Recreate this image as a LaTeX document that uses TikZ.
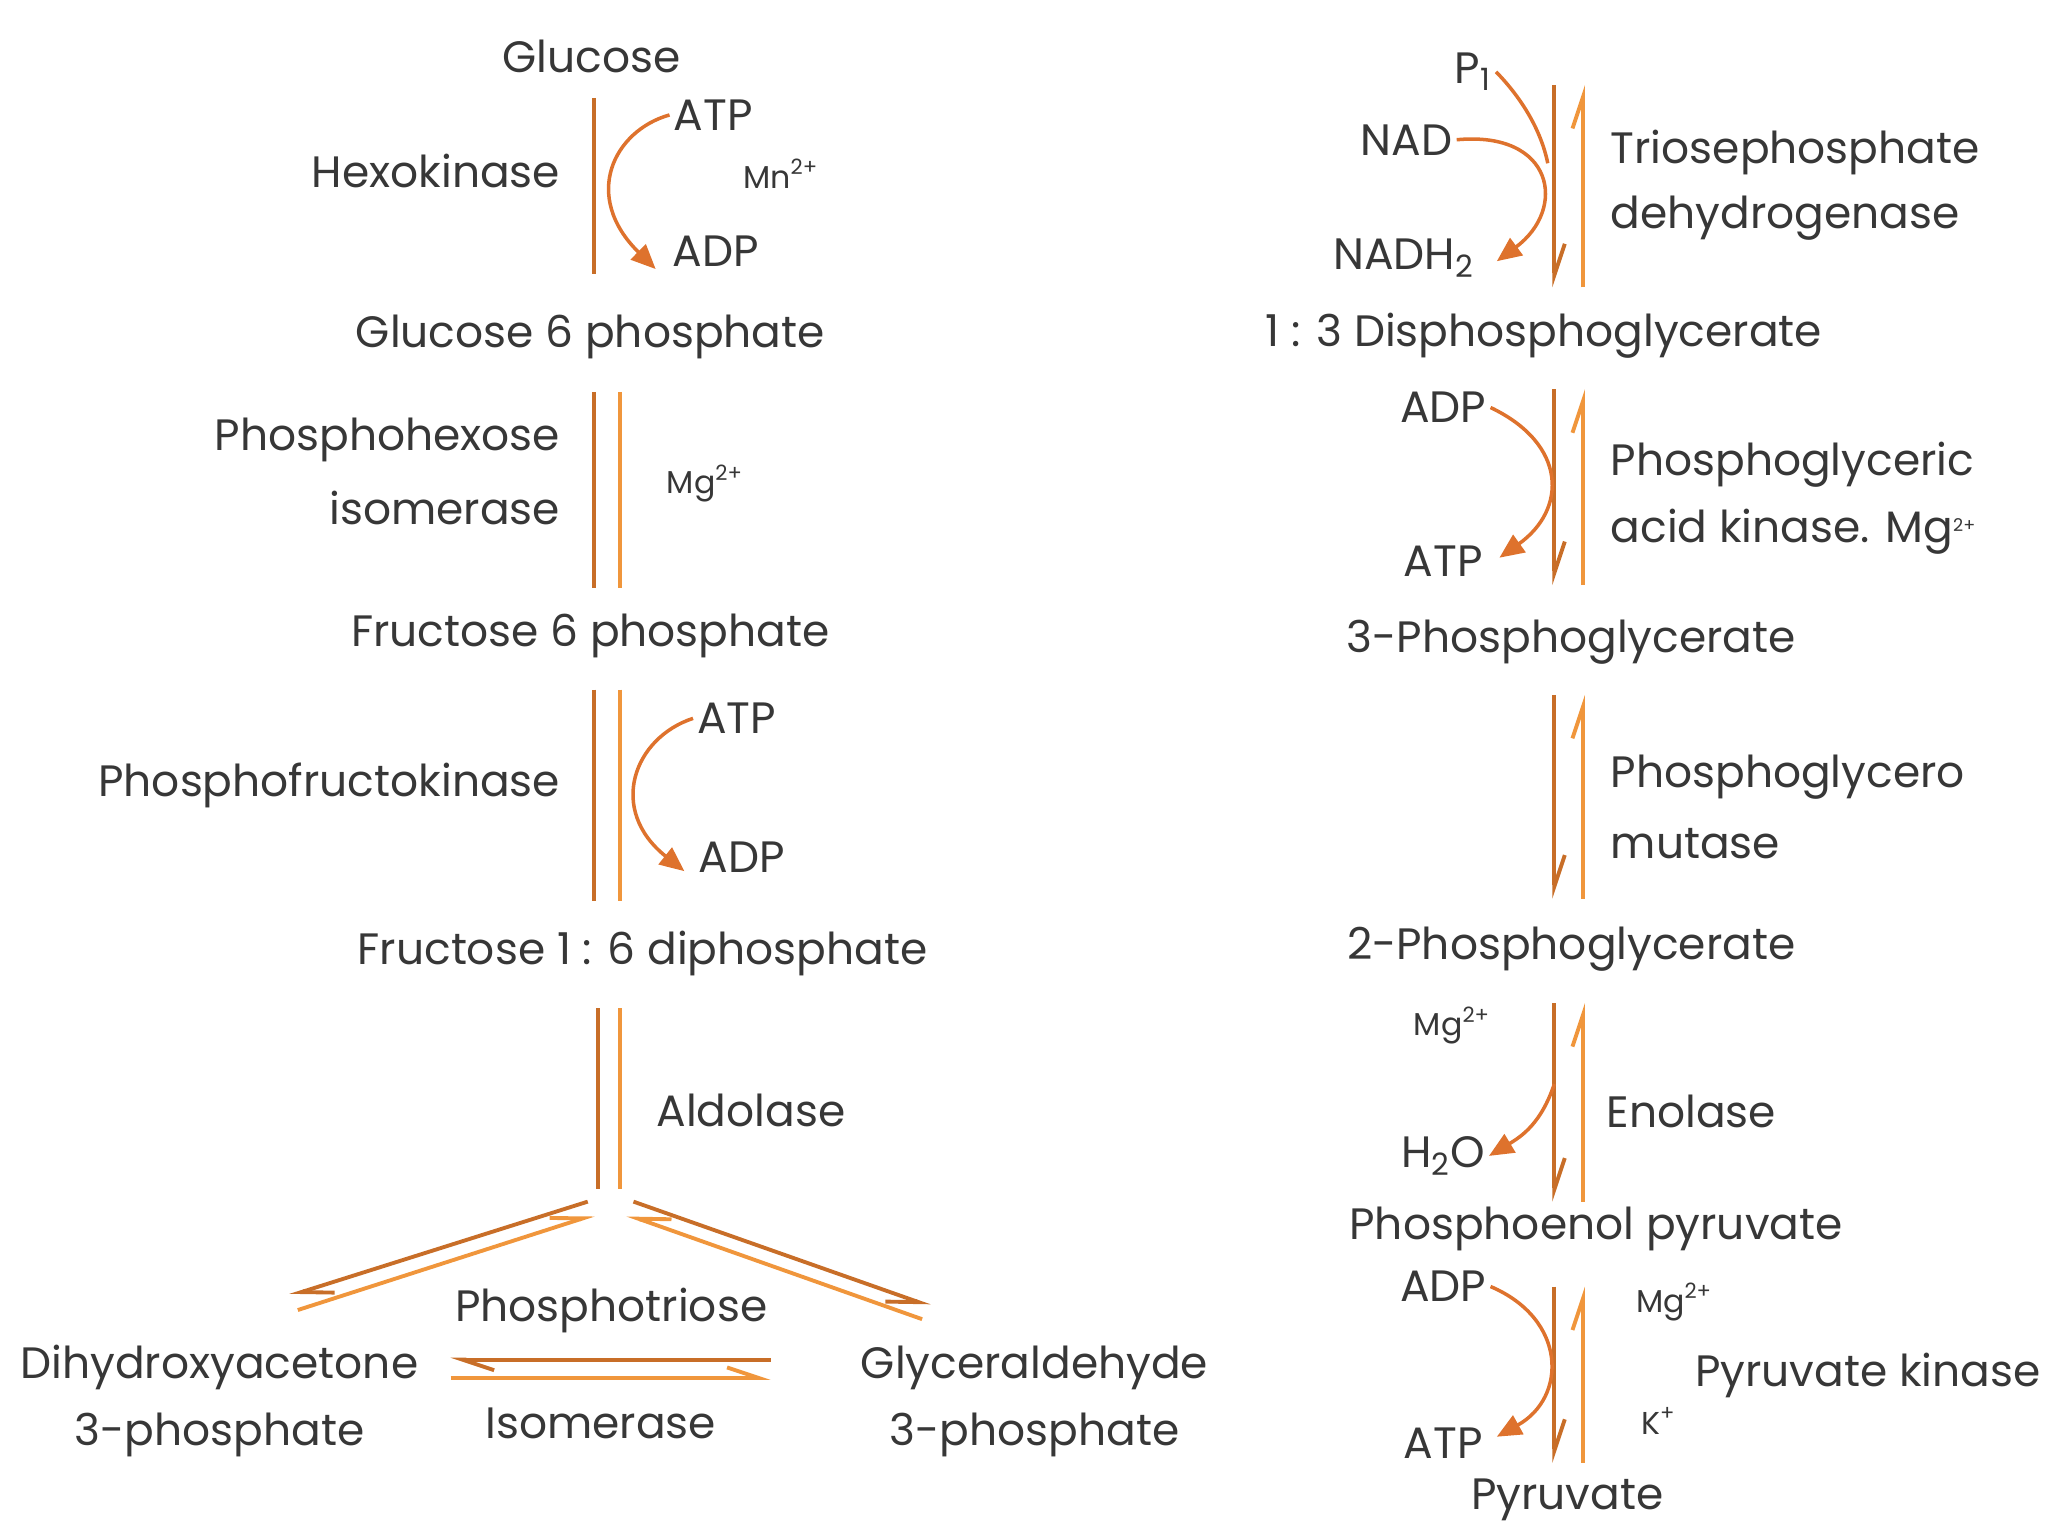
\documentclass[tikz,border=0pt]{standalone}
\usepackage{fontspec}
\setmainfont{Poppins}
\usetikzlibrary{arrows.meta}
\definecolor{od}{RGB}{200,110,40}
\definecolor{ol}{RGB}{240,150,60}
\definecolor{oa}{RGB}{230,110,40}
\definecolor{tx}{RGB}{55,55,55}
\newcommand{\Sup}[1]{\textsuperscript{#1}}
\newcommand{\Sub}[1]{\textsubscript{#1}}
\begin{document}
\begin{tikzpicture}[x=0.01306cm,y=-0.01306cm,
  lbl/.style={inner sep=1pt,text=tx,font=\fontsize{12.5}{15}\selectfont},
  sml/.style={inner sep=1pt,text=tx,font=\fontsize{9}{11}\selectfont},
  ln/.style={draw=od,line width=1.1pt},
  lnl/.style={draw=ol,line width=1.1pt},
  dn/.style={ln,-{Straight Barb[left,length=9pt,width=6pt]}},
  up/.style={lnl,-{Straight Barb[left,length=9pt,width=6pt]}},
  crv/.style={draw=oa!80!brown,line width=1pt,-{Triangle[length=7pt,width=6pt]}},
  crvn/.style={draw=oa!80!brown,line width=1pt}]
\useasboundingbox (0,0) rectangle (1568,1176);
% ---- left column
\node[lbl] (glc) at (453,43) {Glucose};
\node[lbl,anchor=east] (hex) at (432,131) {Hexokinase};
\node[lbl] (atp1) at (546,88) {ATP};
\node[sml] (mn) at (598,133) {Mn\Sup{2+}};
\node[lbl] (adp1) at (548,192) {ADP};
\node[lbl] (g6p) at (452,258) {Glucose 6 phosphate};
\coordinate (h1) at (455,75); \coordinate (h2) at (455,210);
\draw[ln] (h1) -- (h2);
\draw[crv] (atp1.west) .. controls (470,100) and (445,150) .. (502,206);
\node[lbl,anchor=east] (phx) at (432,337) {Phosphohexose};
\node[lbl,anchor=east] (iso) at (432,389) {isomerase};
\node[sml] (mg1) at (540,370) {Mg\Sup{2+}};
\node[lbl] (f6p) at (452,487) {Fructose 6 phosphate};
\coordinate (a1) at (455,300); \coordinate (a2) at (455,450);
\coordinate (b1) at (475,300); \coordinate (b2) at (475,450);
\draw[ln] (a1) -- (a2); \draw[lnl] (b1) -- (b2);
\node[lbl,anchor=east] (pfk) at (432,601) {Phosphofructokinase};
\node[lbl] (atp2) at (564,550) {ATP};
\node[lbl] (adp2) at (568,656) {ADP};
\coordinate (c1) at (455,528); \coordinate (c2) at (455,690);
\coordinate (d1) at (475,528); \coordinate (d2) at (475,690);
\draw[ln] (c1) -- (c2); \draw[lnl] (d1) -- (d2);
\draw[crv] (atp2.west) .. controls (485,565) and (465,620) .. (524,667);
\node[lbl] (fdp) at (492,730) {Fructose 1 : 6 diphosphate};
\coordinate (e1) at (458,772); \coordinate (e2) at (458,910);
\coordinate (f1) at (475,772); \coordinate (f2) at (475,910);
\draw[ln] (e1) -- (e2); \draw[lnl] (f1) -- (f2);
\node[lbl] (ald) at (575,850) {Aldolase};
% diagonals
\coordinate (L1) at (450,920); \coordinate (L2) at (222,992);
\coordinate (L3) at (228,1003); \coordinate (L4) at (455,930);
\draw[dn] (L1) -- (L2); \draw[up] (L3) -- (L4);
\coordinate (R1) at (485,920); \coordinate (R2) at (712,1000);
\coordinate (R3) at (706,1010); \coordinate (R4) at (480,930);
\draw[ln,-{Straight Barb[right,length=9pt,width=6pt]}] (R1) -- (R2);
\draw[lnl,-{Straight Barb[right,length=9pt,width=6pt]}] (R3) -- (R4);
\node[lbl] (dha) at (168,1047) {Dihydroxyacetone};
\node[lbl] (dha2) at (168,1099) {3-phosphate};
\node[lbl] (gap) at (792,1047) {Glyceraldehyde};
\node[lbl] (gap2) at (792,1099) {3-phosphate};
\node[lbl] (pt) at (468,1003) {Phosphotriose};
\node[lbl] (ptb) at (460,1090) {Isomerase};
\coordinate (H1) at (590,1041); \coordinate (H2) at (345,1041);
\coordinate (H3) at (345,1055); \coordinate (H4) at (590,1055);
\draw[ln,-{Straight Barb[left,length=9pt,width=6pt]}] (H1) -- (H2);
\draw[lnl,-{Straight Barb[left,length=9pt,width=6pt]}] (H3) -- (H4);
% ---- right column
\node[lbl] (p1) at (1128,55) {P\Sub{1}};
\node[lbl] (nad) at (1077,107) {NAD};
\node[lbl] (nadh) at (1075,198) {NADH\Sub{2}};
\node[lbl,anchor=west] (tpd) at (1230,117) {Triosephosphate};
\node[lbl,anchor=west] (tpd2) at (1230,167) {dehydrogenase};
\coordinate (s1a) at (1190,65); \coordinate (s1b) at (1190,220);
\coordinate (s1c) at (1212,220); \coordinate (s1d) at (1212,65);
\draw[dn] (s1a) -- (s1b); \draw[up] (s1c) -- (s1d);
\draw[crvn] (p1.east) .. controls (1165,75) and (1180,100) .. (1185,125);
\draw[crv] (nad.east) .. controls (1190,100) and (1200,160) .. (1146,200);
\node[lbl] (dpg) at (1182,257) {1 : 3 Disphosphoglycerate};
\node[lbl] (adp3) at (1105,312) {ADP};
\node[lbl] (atp3) at (1105,430) {ATP};
\node[lbl,anchor=west] (pgk) at (1230,356) {Phosphoglyceric};
\node[lbl,anchor=west] (pgk2) at (1230,407) {acid kinase. Mg{\fontsize{7}{8}\selectfont\Sup{2+}}};
\coordinate (s2a) at (1190,298); \coordinate (s2b) at (1190,448);
\coordinate (s2c) at (1212,448); \coordinate (s2d) at (1212,298);
\draw[dn] (s2a) -- (s2b); \draw[up] (s2c) -- (s2d);
\draw[crv] (adp3.east) .. controls (1200,340) and (1200,390) .. (1148,427);
\node[lbl] (pg3) at (1203,492) {3-Phosphoglycerate};
\coordinate (s3a) at (1190,532); \coordinate (s3b) at (1190,688);
\coordinate (s3c) at (1212,688); \coordinate (s3d) at (1212,532);
\draw[dn] (s3a) -- (s3b); \draw[up] (s3c) -- (s3d);
\node[lbl,anchor=west] (pgm) at (1230,595) {Phosphoglycero};
\node[lbl,anchor=west] (pgm2) at (1230,646) {mutase};
\node[lbl] (pg2) at (1203,727) {2-Phosphoglycerate};
\node[sml] (mg4) at (1112,785) {Mg\Sup{2+}};
\node[lbl] (h2o) at (1105,885) {H\Sub{2}O};
\node[lbl] (eno) at (1295,851) {Enolase};
\coordinate (s4a) at (1190,768); \coordinate (s4b) at (1190,920);
\coordinate (s4c) at (1212,920); \coordinate (s4d) at (1212,768);
\draw[dn] (s4a) -- (s4b); \draw[up] (s4c) -- (s4d);
\draw[crv] (1190,830) .. controls (1180,860) and (1165,870) .. (1140,885);
\node[lbl] (pep) at (1222,941) {Phosphoenol pyruvate};
\node[lbl] (adp5) at (1105,985) {ADP};
\node[lbl] (atp5) at (1105,1105) {ATP};
\node[sml] (mg5) at (1282,997) {Mg\Sup{2+}};
\node[lbl] (pk) at (1430,1053) {Pyruvate kinase};
\node[sml] (k) at (1270,1088) {K\Sup{+}};
\coordinate (s5a) at (1190,985); \coordinate (s5b) at (1190,1120);
\coordinate (s5c) at (1212,1120); \coordinate (s5d) at (1212,985);
\draw[dn] (s5a) -- (s5b); \draw[up] (s5c) -- (s5d);
\draw[crv] (adp5.east) .. controls (1200,1010) and (1200,1070) .. (1146,1100);
\node[lbl] (pyr) at (1200,1148) {Pyruvate};
\end{tikzpicture}
\end{document}
